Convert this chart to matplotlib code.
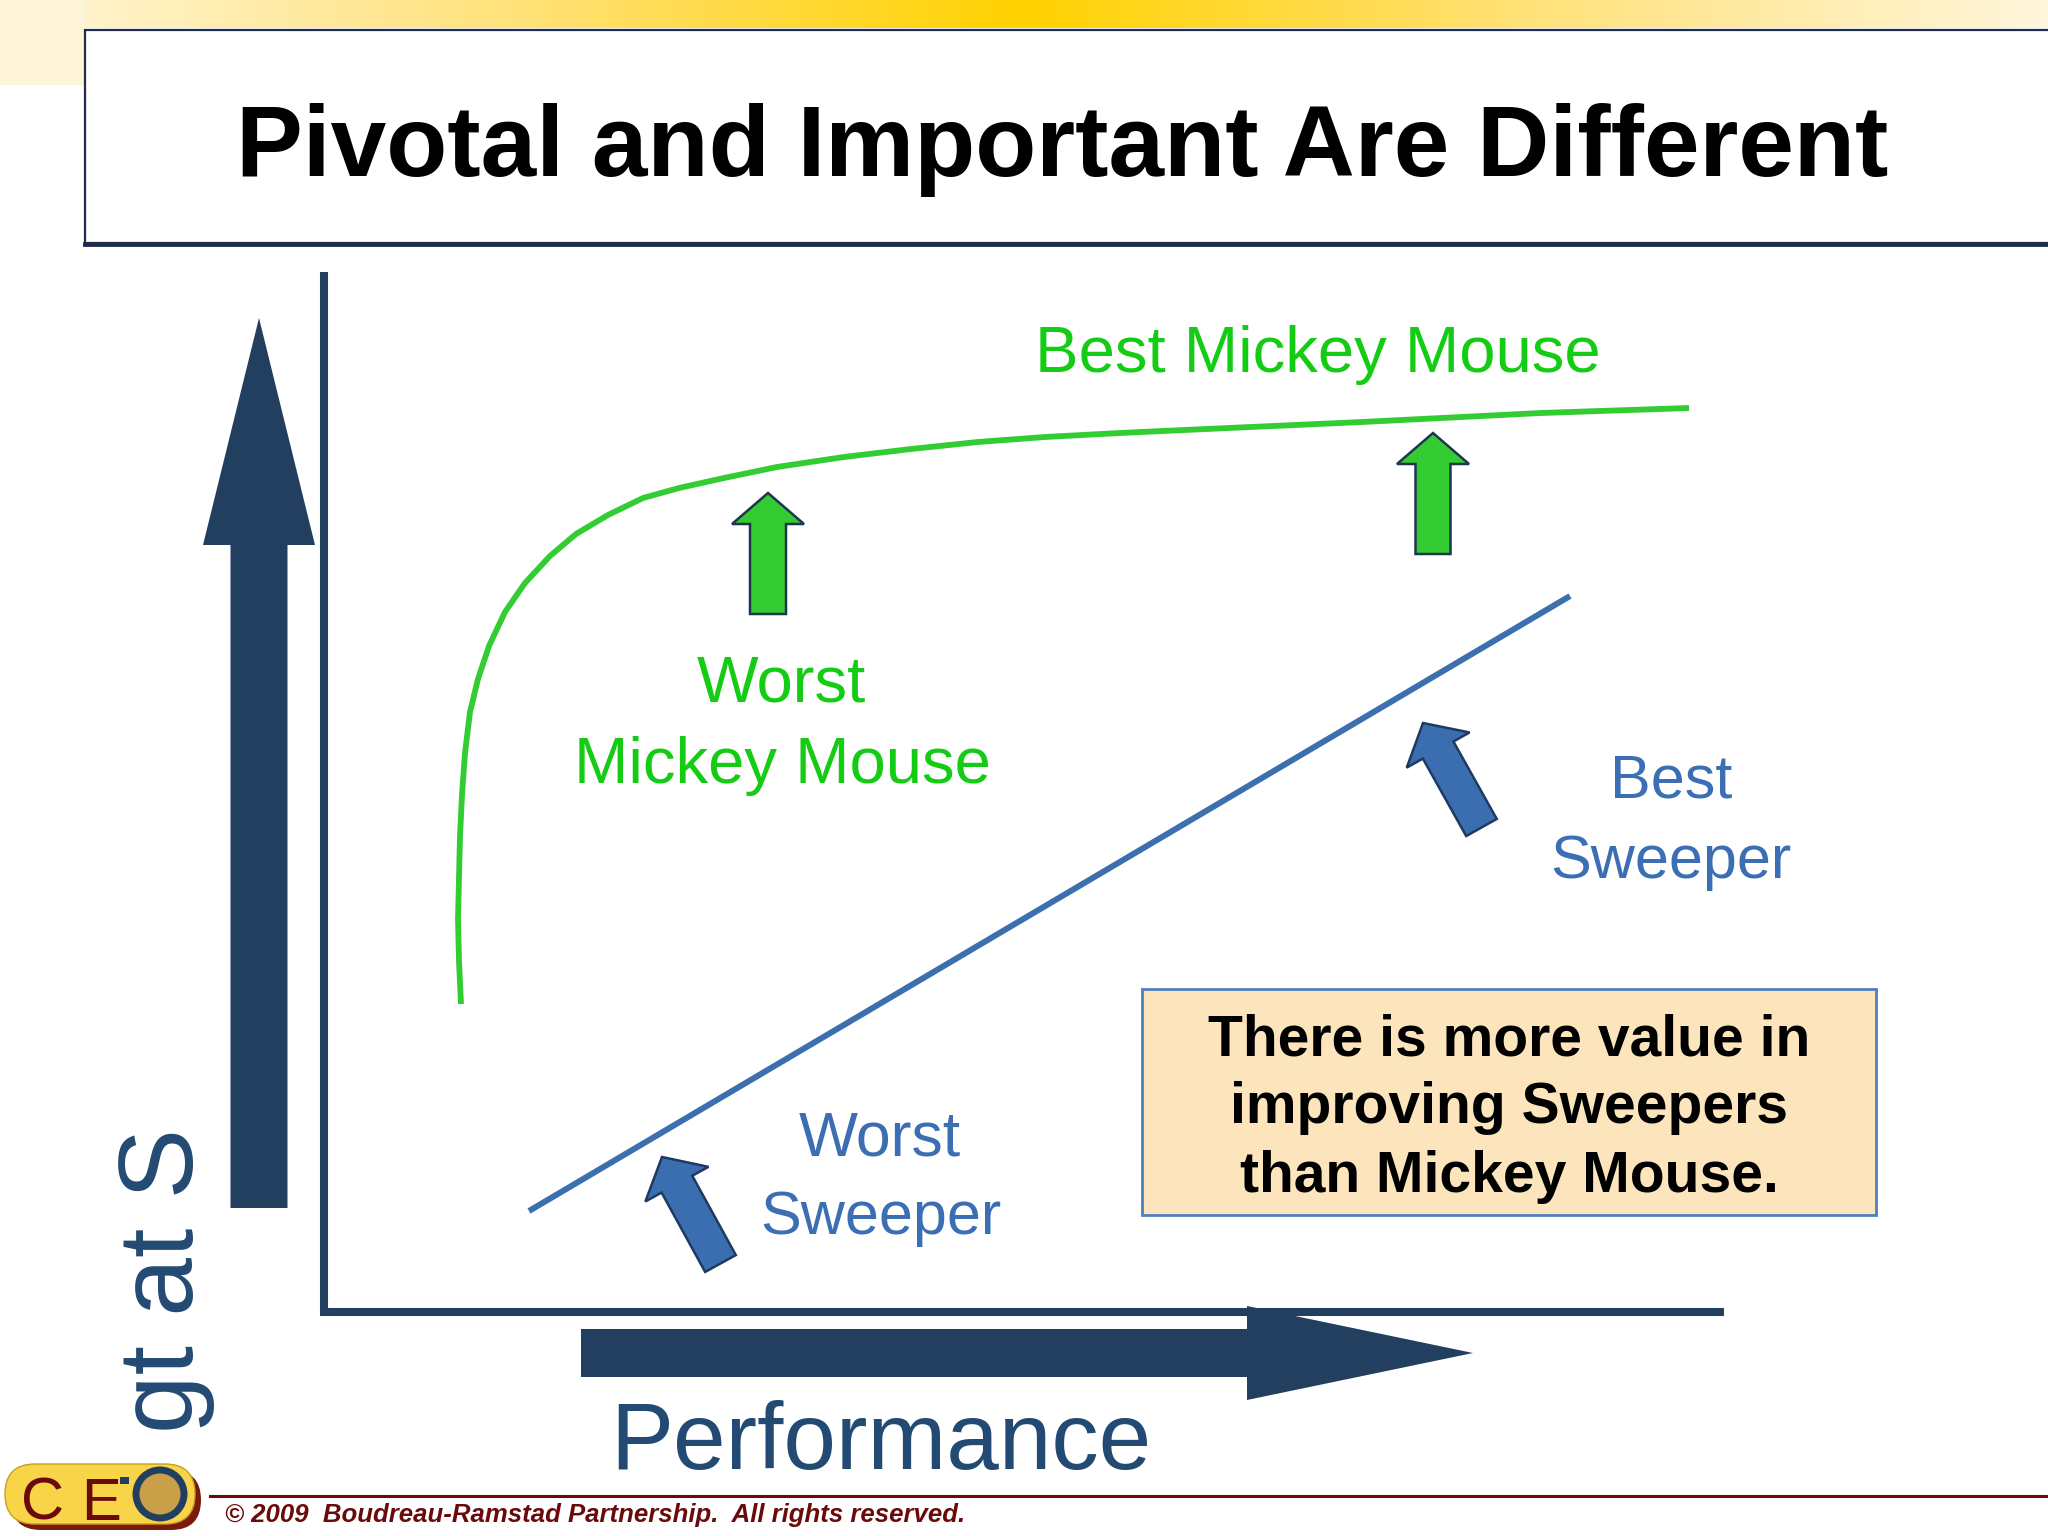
import numpy as np
import matplotlib.pyplot as plt
from matplotlib.colors import LinearSegmentedColormap
from matplotlib.patches import Polygon, Rectangle, FancyBboxPatch, Circle

# Curve for the "Mickey Mouse" job (sharp rise, then flat)
mickey_x = [461, 459, 458, 459, 460, 462, 465, 470, 478, 489, 505, 525, 550, 576, 608, 643,
            679, 724, 777, 844, 911, 978, 1045, 1120, 1184, 1362, 1541, 1689]
mickey_y = [1004, 961, 919, 878, 836, 795, 753, 712, 679, 646, 612, 583, 556, 534, 515, 498,
            488, 478, 467, 457, 449, 442, 437, 433, 430, 422, 413, 408]

# Straight line for the "Sweeper" job
sweeper_x = [529, 1570]
sweeper_y = [1211, 596]

title = "Pivotal and Important Are Different"
x_label = "Performance"
y_label = "gt at S"
box_lines = ["There is more value in", "improving Sweepers", "than Mickey Mouse."]
footer = "\u00a9 2009  Boudreau-Ramstad Partnership.  All rights reserved."

navy = "#233F60"
green_line = "#33CC33"
green_text = "#14CC14"
blue_line = "#3B6FAE"
blue_text = "#3C6EB4"
dark_red = "#6B0A0A"

plt.rcParams['font.family'] = ['Liberation Sans', 'DejaVu Sans']


def block_arrow(ax, tail, tip, shaft_w, head_w, head_len, face, edge=None, lw=0):
    tail = np.array(tail, float)
    tip = np.array(tip, float)
    d = tip - tail
    d = d / np.hypot(*d)
    n = np.array([-d[1], d[0]])
    base = tip - d * head_len
    pts = [tail + n * shaft_w / 2, base + n * shaft_w / 2, base + n * head_w / 2, tip,
           base - n * head_w / 2, base - n * shaft_w / 2, tail - n * shaft_w / 2]
    ax.add_patch(Polygon(pts, closed=True, facecolor=face,
                         edgecolor=edge if edge else face, linewidth=lw, joinstyle='miter'))


fig = plt.figure(figsize=(20.48, 15.36), dpi=100)
ax = fig.add_axes([0, 0, 1, 1])
ax.set_xlim(0, 2048)
ax.set_ylim(1536, 0)
ax.axis('off')

# top gold band and pale corner
band = LinearSegmentedColormap.from_list("band", ["#FFF6DA", "#FFE27A", "#FFD200", "#FFE27A", "#FFF6DC"])
ax.imshow(np.linspace(0, 1, 512)[None, :], cmap=band, aspect='auto',
          extent=(0, 2048, 28, 0), zorder=0)
ax.add_patch(Rectangle((0, 0), 85, 85, facecolor="#FEF4D8", edgecolor='none', zorder=0))

# title box
ax.add_patch(Rectangle((85, 30), 2000, 213, facecolor='white', edgecolor="#1F2D4A", linewidth=1.6, zorder=1))
ax.plot([85, 2048], [244, 244], color="#1F2D4A", linewidth=3.5, zorder=2)
ax.text(1062, 176, title, ha='center', va='baseline', fontsize=72, fontweight='bold', color='black')

# big axis arrows
block_arrow(ax, (259, 1208), (259, 318), 57, 112, 227, navy)
block_arrow(ax, (581, 1353), (1473, 1353), 48, 94, 226, navy)
ax.plot([324, 324], [272, 1316], color=navy, linewidth=5.8, solid_capstyle='butt')
ax.plot([320, 1724], [1312, 1312], color=navy, linewidth=5.8, solid_capstyle='butt')

# curves
ax.plot(mickey_x, mickey_y, color=green_line, linewidth=4.2, solid_capstyle='butt', solid_joinstyle='round')
ax.plot(sweeper_x, sweeper_y, color=blue_line, linewidth=4.3, solid_capstyle='butt')

# small improvement arrows
block_arrow(ax, (768, 614), (768, 493), 36, 72, 31, "#33CC33", "#1F3550", 1.8)
block_arrow(ax, (1433, 554), (1433, 433), 35, 72, 31, "#33CC33", "#1F3550", 1.8)
block_arrow(ax, (720.5, 1263.5), (662, 1157), 35, 72, 31, "#3B6EB0", "#1F3A60", 1.8)
block_arrow(ax, (1481.5, 827.5), (1423, 723), 35, 72, 31, "#3B6EB0", "#1F3A60", 1.8)

# labels
ax.text(1318, 372, "Best Mickey Mouse", ha='center', va='baseline', fontsize=47, color=green_text)
ax.text(781, 702, "Worst", ha='center', va='baseline', fontsize=47, color=green_text)
ax.text(782, 783, "Mickey Mouse", ha='center', va='baseline', fontsize=47, color=green_text)
ax.text(1671, 797, "Best", ha='center', va='baseline', fontsize=44, color=blue_text)
ax.text(1671, 878, "Sweeper", ha='center', va='baseline', fontsize=44, color=blue_text)
ax.text(880, 1155, "Worst", ha='center', va='baseline', fontsize=45, color=blue_text)
ax.text(881, 1234, "Sweeper", ha='center', va='baseline', fontsize=44, color=blue_text)
ax.text(881, 1469, x_label, ha='center', va='baseline', fontsize=68, color="#234A72")

# vertical label (partly garbled in the original slide)
ax.text(193, 1433, y_label, rotation=90, rotation_mode='anchor', ha='left', va='baseline',
        fontsize=76, color="#234A72")

# message box
ax.add_patch(Rectangle((1142, 989), 734, 226, facecolor="#FCE4BC", edgecolor="#4F7FBF", linewidth=2))
for line, yb in zip(box_lines, [1055, 1123, 1192]):
    ax.text(1509, yb, line, ha='center', va='baseline', fontsize=41, fontweight='bold', color='black')

# footer
ax.plot([210, 2048], [1496, 1496], color=dark_red, linewidth=2.2)
ax.text(225, 1522, footer, ha='left', va='baseline', fontsize=18.5, fontweight='bold',
        style='italic', color=dark_red)

# CEO logo
ax.add_patch(FancyBboxPatch((11, 1470), 190, 60, boxstyle="round,pad=0,rounding_size=30",
                            facecolor="#7A1A0A", edgecolor='none'))
ax.add_patch(FancyBboxPatch((5, 1464), 190, 60, boxstyle="round,pad=0,rounding_size=30",
                            facecolor="#F7D448", edgecolor="#C9A020", linewidth=1))
ax.text(43, 1520, "C", ha='center', va='baseline', fontsize=43, color=dark_red)
ax.text(101, 1520, "E", ha='center', va='baseline', fontsize=43, color=dark_red)
ax.add_patch(Rectangle((120, 1477), 9, 7, facecolor=navy, edgecolor='none'))
ax.add_patch(Circle((160, 1494), 24, facecolor="#C9A048", edgecolor=navy, linewidth=5))

fig.savefig("out.png", dpi=100)
